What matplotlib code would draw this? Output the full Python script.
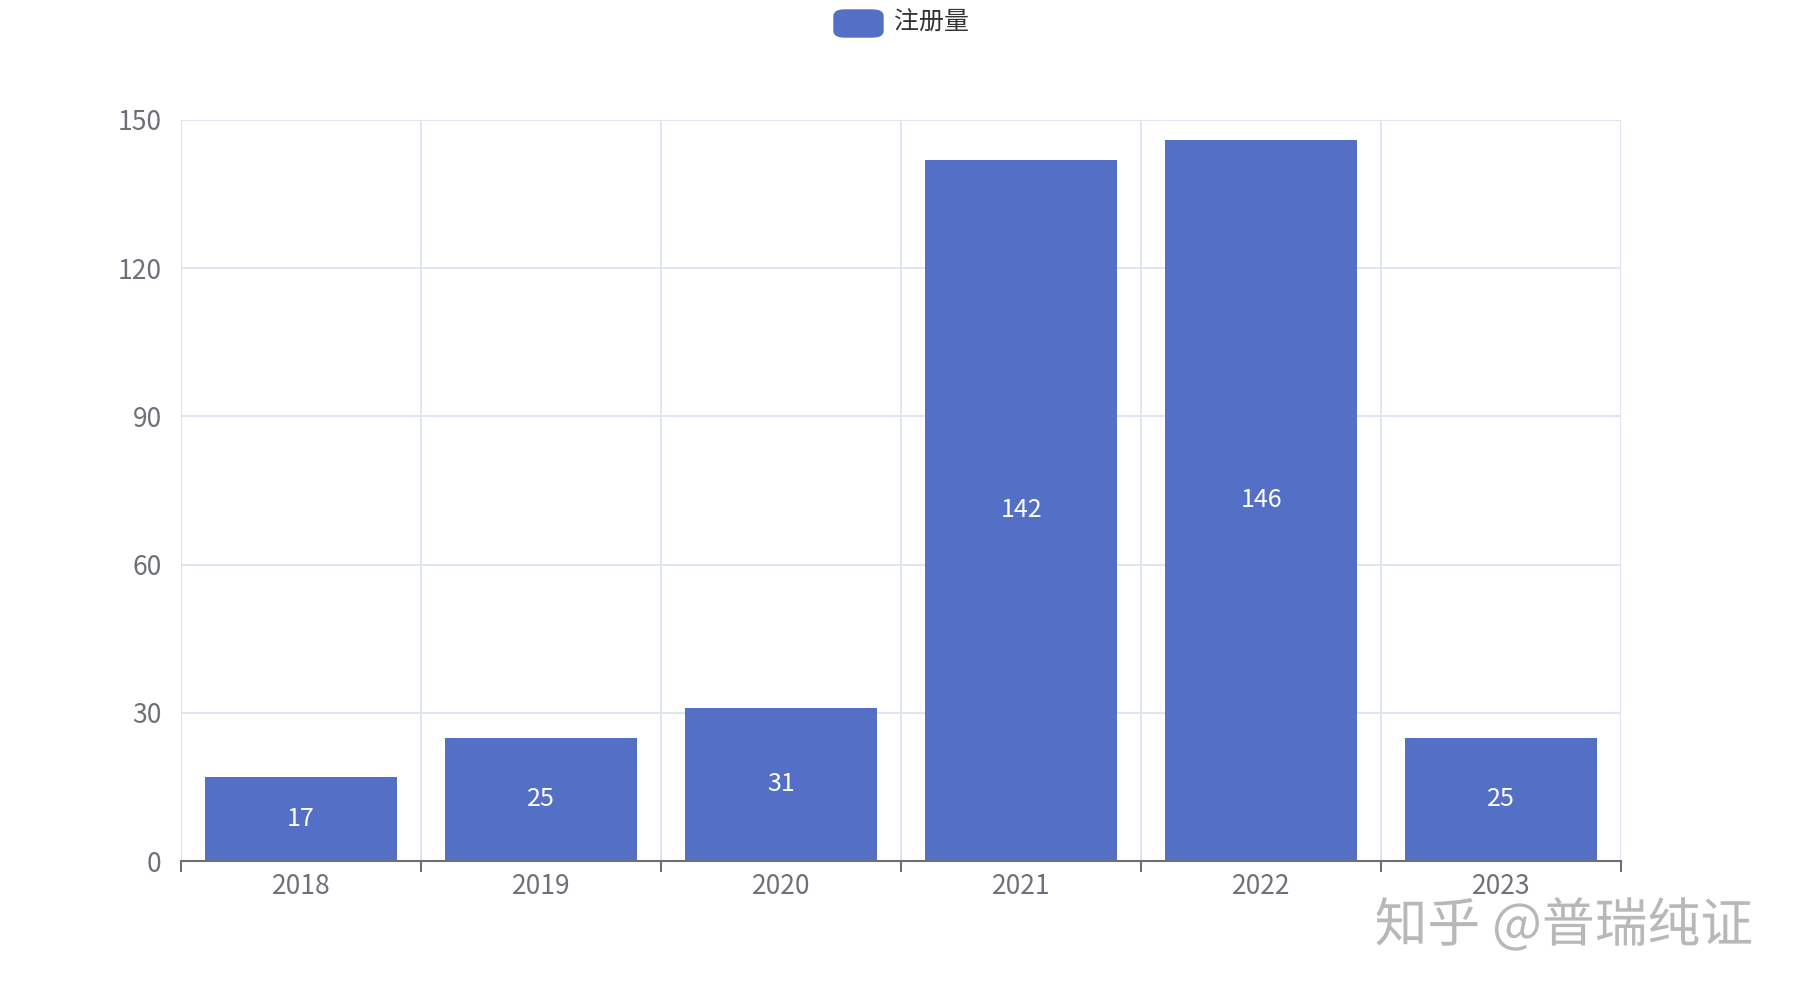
import numpy as np
import matplotlib.pyplot as plt
from matplotlib.patches import FancyBboxPatch
import matplotlib.patheffects as pe

plt.rcParams['font.family'] = ['Noto Sans CJK SC', 'DejaVu Sans']

years = ['2018', '2019', '2020', '2021', '2022', '2023']
counts = [17, 25, 31, 142, 146, 25]
yticks = [0, 30, 60, 90, 120, 150]

bar_color = '#5470c6'
axis_color = '#6e7079'
grid_color = '#e0e6f1'

fig = plt.figure(figsize=(18, 10), dpi=100)
ax = fig.add_axes([0.1006, 0.139, 0.8, 0.741])

x = np.arange(len(years))
bars = ax.bar(x, counts, width=0.8, color=bar_color, zorder=3)
for b, v in zip(bars, counts):
    ax.text(b.get_x() + b.get_width() / 2, v / 2, str(v), ha='center', va='center',
            color='white', fontsize=18, zorder=4)

ax.set_xlim(-0.5, len(years) - 0.5)
ax.set_ylim(0, 150)
ax.set_yticks(yticks)
ax.set_yticklabels([str(t) for t in yticks])
ax.set_xticks(x)
ax.set_xticklabels(years)

# category boundary lines and ticks
bounds = np.arange(len(years) + 1) - 0.5
for bx in bounds:
    ax.axvline(bx, color=grid_color, lw=1.4, zorder=1)
for t in yticks[1:]:
    ax.axhline(t, color=grid_color, lw=1.4, zorder=1)
ax.set_xticks(bounds, minor=True)
ax.tick_params(axis='x', which='minor', length=8, width=1.5, color=axis_color)
ax.tick_params(axis='x', which='major', length=0, pad=9, labelsize=19, labelcolor=axis_color)
ax.tick_params(axis='y', length=0, pad=14, labelsize=19, labelcolor=axis_color)

for s in ['top', 'right', 'left']:
    ax.spines[s].set_visible(False)
ax.spines['bottom'].set_color(axis_color)
ax.spines['bottom'].set_linewidth(1.5)
ax.spines['bottom'].set_zorder(5)

# legend
fig.patches.append(FancyBboxPatch((834 / 1800, 1 - 37 / 1000), 49 / 1800, 27 / 1000,
                                  boxstyle='round,pad=0,rounding_size=0.006',
                                  transform=fig.transFigure, color=bar_color))
fig.text(894 / 1800, 1 - 23 / 1000, '注册量', ha='left', va='center', fontsize=18, color='#333333')

# watermark
fig.text(1753 / 1800, 1 - 926 / 1000, '知乎 @普瑞纯证', ha='right', va='center', fontsize=38,
         color='#b8b8b8', path_effects=[pe.withStroke(linewidth=3, foreground='white')])

fig.savefig('out.png', dpi=100, facecolor='white')
